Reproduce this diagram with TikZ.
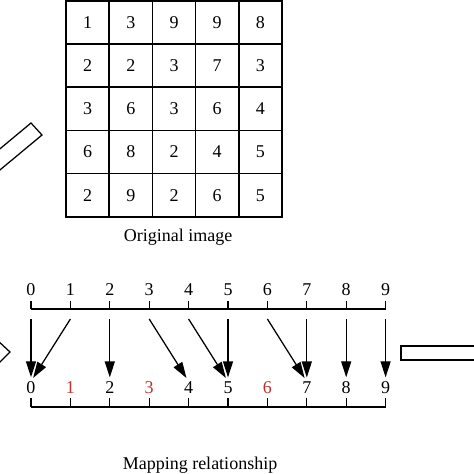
\documentclass[tikz,border=0pt]{standalone}
\usepackage{fontspec}
\setmainfont{Liberation Serif}
\usetikzlibrary{positioning,arrows.meta}
\definecolor{mapred}{RGB}{185,50,45}

\begin{document}
\begin{tikzpicture}[x=1pt,y=-1pt,line width=1.25pt,
	font=\fontsize{18}{20}\selectfont,
	cell/.style={draw,line width=1.6pt,minimum size=43.2pt,inner sep=0pt},
	num/.style={inner sep=0pt},
	map/.style={-{Triangle[length=16pt,width=10pt]},shorten >=4pt}]
	\clip (0,0) rectangle (474,474);
	% the 5x5 image
	\foreach \row [count=\i] in {{1,3,9,9,8},{2,2,3,7,3},{3,6,3,6,4},{6,8,2,4,5},{2,9,2,6,5}}
		\foreach \v [count=\j] in \row
			\node [cell] (C\i\j) at ({66+43.2*(\j-0.5)},{0.8+43.2*(\i-0.5)}) {\v};
	\node (O) at (178,237) {Original image};
	% the two scales
	\foreach \k in {0,...,9} {
		\node [num] (T\k) at ({31+39.4*\k},290) {\k};
		\coordinate (S\k) at ({31+39.4*\k},319);
		\draw ({31+39.4*\k},301) -- ({31+39.4*\k},309);
		\draw ({31+39.4*\k},398) -- ({31+39.4*\k},407);
	}
	\foreach \k/\c in {0/black,1/mapred,2/black,3/mapred,4/black,5/black,6/mapred,7/black,8/black,9/black}
		\node [num,text=\c] (B\k) at ({31+39.4*\k},388) {\k};
	\draw (31,309) -- (385.6,309);
	\draw (31,407) -- (385.6,407);
	\foreach \a/\b in {0/0,1/0,2/2,3/4,4/5,5/5,6/7,7/7,8/8,9/9}
		\draw [map] (S\a) to (B\b.north);
	\node (M) at (200,465) {Mapping relationship};
	% cut-off arrows at the borders
	\draw (31,123) -- (42,135) -- (-4.2,173.4) -- (-15.2,161.4) -- cycle;
	\draw (-4,339) -- (10,352) -- (-4,366);
	\draw (401,346) rectangle (480,360);
\end{tikzpicture}
\end{document}
